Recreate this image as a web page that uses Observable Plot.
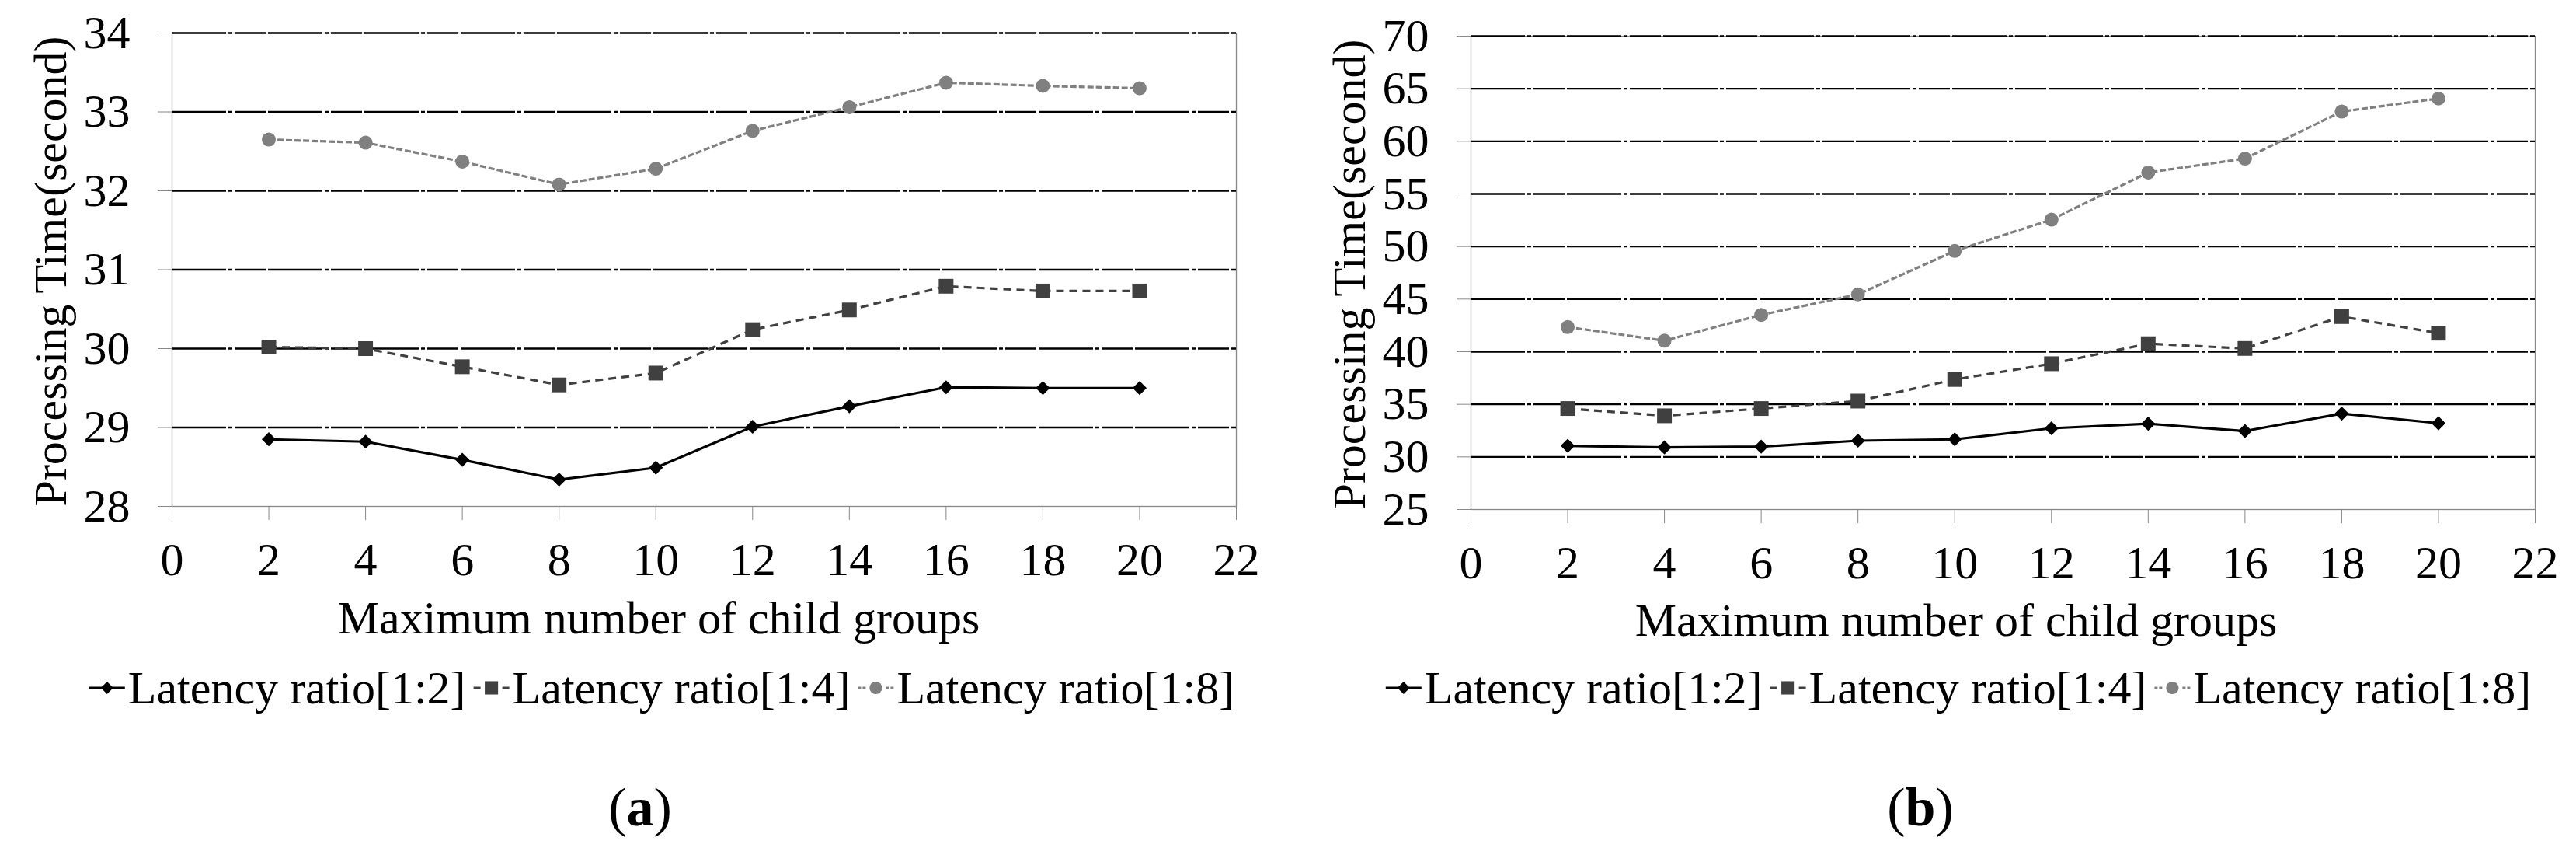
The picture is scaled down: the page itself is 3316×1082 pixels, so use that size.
<!DOCTYPE html>
<html>
<head>
<meta charset="utf-8">
<script src="https://cdn.jsdelivr.net/npm/d3@7"></script>
<script src="https://cdn.jsdelivr.net/npm/@observablehq/plot@0.6"></script>
<style>
html, body { margin: 0; padding: 0; background: #fff; }
#root { position: relative; width: 3316px; height: 1082px; overflow: hidden; background: #fff; }
.panel { position: absolute; top: 0; }
#overlay { position: absolute; left: 0; top: 0; pointer-events: none; }
</style>
</head>
<body>
<div id="root"></div>
<script>
// ---------- data ----------
const xValues = [2, 4, 6, 8, 10, 12, 14, 16, 18, 20];
const xTicks = [0, 2, 4, 6, 8, 10, 12, 14, 16, 18, 20, 22];
const seriesNames = ["Latency ratio[1:2]", "Latency ratio[1:4]", "Latency ratio[1:8]"];

// panel (a)
const yTicksA = [28, 29, 30, 31, 32, 33, 34];
const a_ratio12 = [28.85, 28.82, 28.59, 28.34, 28.49, 29.01, 29.27, 29.51, 29.50, 29.50];
const a_ratio14 = [30.02, 30.00, 29.77, 29.54, 29.69, 30.24, 30.49, 30.79, 30.73, 30.73];
const a_ratio18 = [32.65, 32.61, 32.37, 32.08, 32.28, 32.76, 33.06, 33.37, 33.33, 33.30];

// panel (b)
const yTicksB = [25, 30, 35, 40, 45, 50, 55, 60, 65, 70];
const b_ratio12 = [31.05, 30.90, 30.97, 31.54, 31.67, 32.72, 33.15, 32.46, 34.12, 33.20];
const b_ratio14 = [34.60, 33.91, 34.60, 35.31, 37.36, 38.86, 40.76, 40.31, 43.34, 41.76];
const b_ratio18 = [42.34, 41.05, 43.50, 45.45, 49.58, 52.56, 57.04, 58.36, 62.83, 64.07];

const yLabel = "Processing Time(second)";
const xLabel = "Maximum number of child groups";
const captions = ["a", "b"];

// ---------- styles ----------
const FONT = "'Liberation Serif', 'Times New Roman', serif";
const seriesStyle = [
  {color: "#000000", dash: null, symbol: "diamond2", r: 8.2, legendDash: null},
  {color: "#404040", dash: "10,7", symbol: "square", r: 10.7, legendDash: "9,28,9"},
  {color: "#808080", dash: "8,3", symbol: "circle", r: 9, legendDash: "4,2,4,26,4,2,4"}
];

const panels = [
  {left: 0, yTicks: yTicksA, series: [a_ratio12, a_ratio14, a_ratio18],
   marginLeft: 221, marginRight: 67, marginTop: 42, marginBottom: 109},
  {left: 1658, yTicks: yTicksB, series: [b_ratio12, b_ratio14, b_ratio18],
   marginLeft: 235, marginRight: 53, marginTop: 46, marginBottom: 105}
];

const root = document.getElementById("root");
const intFmt = d3.format("d");

panels.forEach(p => {
  const marks = [
    Plot.frame({stroke: "#888", strokeWidth: 1.3}),
    Plot.gridY(p.yTicks.slice(1), {stroke: "#000", strokeOpacity: 1, strokeWidth: 2.4, strokeDasharray: "70,3,5,3,40,3"}),
    Plot.axisY(p.yTicks, {tickSize: 18, tickPadding: 36, stroke: "#888", fill: "#000", label: null, fontSize: 60, tickFormat: intFmt}),
    Plot.axisX(xTicks, {tickSize: 18, tickPadding: 28, stroke: "#888", fill: "#000", label: null, fontSize: 60, tickFormat: intFmt})
  ];
  p.series.forEach((vals, si) => {
    const st = seriesStyle[si];
    const rows = xValues.map((x, i) => ({x, y: vals[i], s: seriesNames[si]}));
    marks.push(Plot.line(rows, {x: "x", y: "y", stroke: st.color, strokeWidth: 3.2,
      strokeDasharray: st.dash, strokeLinecap: "butt"}));
  });
  p.series.forEach((vals, si) => {
    const st = seriesStyle[si];
    const rows = xValues.map((x, i) => ({x, y: vals[i], s: seriesNames[si]}));
    marks.push(Plot.dot(rows, {x: "x", y: "y", symbol: st.symbol, r: st.r, fill: st.color, stroke: "none"}));
  });
  const chart = Plot.plot({
    width: 1658, height: 760,
    marginLeft: p.marginLeft, marginRight: p.marginRight,
    marginTop: p.marginTop, marginBottom: p.marginBottom,
    x: {domain: [xTicks[0], xTicks[xTicks.length - 1]]},
    y: {domain: [p.yTicks[0], p.yTicks[p.yTicks.length - 1]]},
    style: {fontFamily: FONT, fontSize: "60px", background: "transparent", color: "#000", overflow: "visible"},
    marks
  });
  const div = document.createElement("div");
  div.className = "panel";
  div.style.left = p.left + "px";
  div.appendChild(chart);
  root.appendChild(div);
});

// ---------- overlay: axis titles, legends, captions ----------
const svg = d3.select(root).append("svg").attr("id", "overlay")
  .attr("width", 3316).attr("height", 1082)
  .style("font-family", FONT).style("overflow", "visible");

const textLayout = [
  {ylx: 85, yly: 349, xtx: 848, xty: 815, lgx: 852, lgy: 905, cx: 824, cy: 1062},
  {ylx: 1757, yly: 353, xtx: 2518, xty: 818, lgx: 2521, lgy: 905, cx: 2472, cy: 1062}
];

textLayout.forEach((L, pi) => {
  svg.append("text")
    .attr("transform", `translate(${L.ylx},${L.yly}) rotate(-90)`)
    .attr("text-anchor", "middle").attr("font-size", 60).attr("fill", "#000")
    .text(yLabel);
  svg.append("text")
    .attr("x", L.xtx).attr("y", L.xty)
    .attr("text-anchor", "middle").attr("font-size", 60).attr("fill", "#000")
    .text(xLabel);

  // legend
  const g = svg.append("g");
  let x = 0;
  seriesNames.forEach((name, si) => {
    const st = seriesStyle[si];
    const sy = L.lgy - 20;
    const sg = g.append("g");
    sg.append("line").attr("x1", x).attr("x2", x + 46).attr("y1", sy).attr("y2", sy)
      .attr("stroke", st.color).attr("stroke-width", 3.2)
      .attr("stroke-dasharray", st.legendDash);
    const sym = st.symbol === "diamond2" ? d3.symbolDiamond2 : st.symbol === "square" ? d3.symbolSquare : d3.symbolCircle;
    const rr = si === 0 ? 7.2 : st.r * 0.9;
    sg.append("path").attr("d", d3.symbol(sym, Math.PI * rr * rr)())
      .attr("transform", `translate(${x + 23},${sy})`).attr("fill", st.color);
    x += 50;
    const t = g.append("text").attr("x", x).attr("y", L.lgy).attr("font-size", 60).attr("fill", "#000").text(name);
    x += t.node().getComputedTextLength() + 10;
  });
  const total = x - 10;
  g.attr("transform", `translate(${L.lgx - total / 2},0)`);

  // caption
  const c = svg.append("text").attr("x", L.cx).attr("y", L.cy)
    .attr("text-anchor", "middle").attr("font-size", 70).attr("fill", "#000");
  c.append("tspan").text("(");
  c.append("tspan").attr("font-weight", "bold").text(captions[pi]);
  c.append("tspan").text(")");
});
</script>
</body>
</html>
